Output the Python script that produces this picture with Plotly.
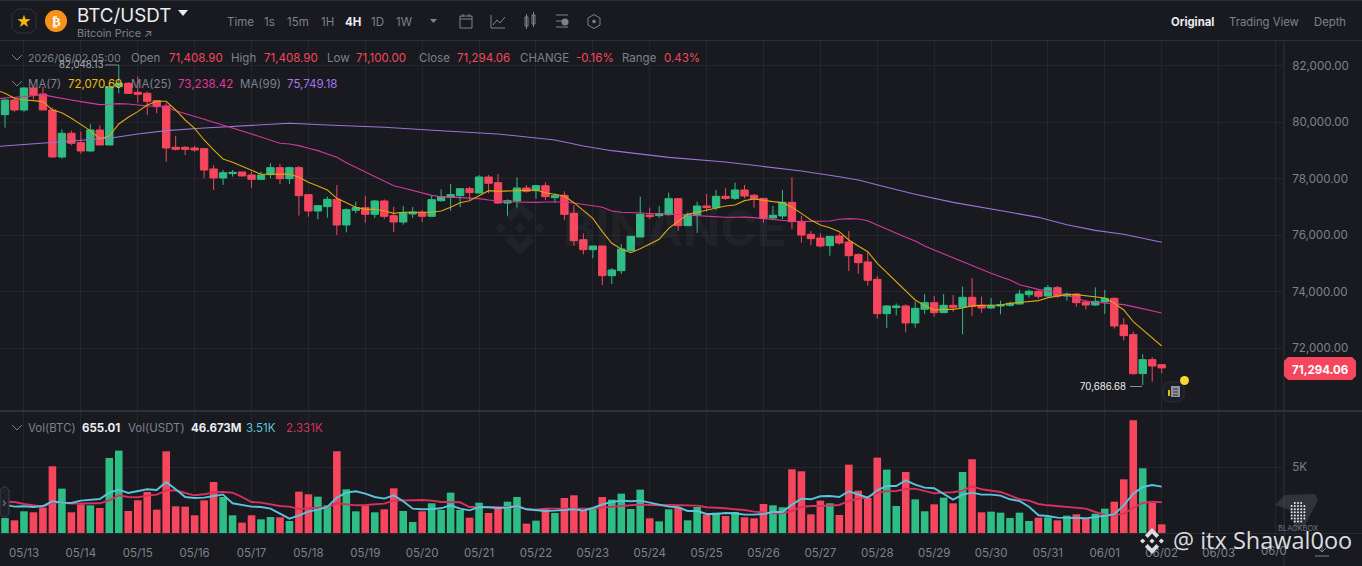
"""BTC/USDT 4H candles with MA and volume panes, Binance dark chart look."""

import pandas as pd
import plotly.graph_objects as go

W, H = 1362, 566

# ── data, one value per 4H candle ──
opens = [
    80274, 80795, 80440, 81220, 81007, 80440, 78773, 79613, 79282, 78986,
    79731, 79199, 81267, 81386, 81067, 81031, 80771, 80582, 79116, 79116,
    79092, 79069, 78348, 78029, 78183, 78242, 78135, 77981, 78147, 78395,
    78005, 78395, 77438, 76859, 77012, 77272, 76362, 76882, 76976, 76740,
    77213, 76692, 76468, 76752, 76811, 76669, 77224, 77343, 77402, 77650,
    77496, 78064, 77863, 77142, 77213, 77673, 77579, 77756, 77331, 77414,
    76775, 75841, 75487, 75617, 74565, 74742, 75451, 75936, 76716, 76693,
    76728, 77295, 76338, 76716, 77035, 76976, 77378, 77307, 77603, 77414,
    77307, 76610, 76681, 77165, 76492, 76031, 75901, 75629, 75972, 75759,
    75310, 75050, 74435, 73218, 73431, 73489, 72887, 73371, 73608, 73253,
    73513, 73442, 73797, 73513, 73419, 73489, 73513, 73560, 73891, 74010,
    73844, 74140, 73844, 73915, 73631, 73525, 73631, 73761, 72816, 72473,
    71090, 71586, 71408.90,
]
highs = [
    80818, 80889, 81244, 81244, 81267, 80523, 79755, 79707, 79672, 79944,
    79896, 81267, 82048.13, 81433, 81622, 81090, 80795, 80676, 79518, 79163,
    79163, 79081, 78490, 78312, 78312, 78253, 78253, 78253, 78549, 78525,
    78431, 78454, 77450, 77071, 77366, 77780, 76952, 77189, 77390, 77248,
    77272, 77012, 77035, 77000, 76893, 77390, 77626, 77815, 77662, 77721,
    78135, 78135, 78170, 77272, 78052, 77780, 77780, 77874, 77484, 77555,
    77071, 76066, 75617, 75617, 74837, 75688, 75971, 77366, 76976, 77035,
    77508, 77307, 76799, 77189, 77461, 77603, 77662, 77863, 77780, 77461,
    77307, 77035, 77603, 78052, 76693, 76149, 76066, 75972, 76066, 76149,
    75357, 75392, 74553, 73513, 73584, 73549, 73643, 73915, 73844, 73915,
    73880, 74175, 74482, 73820, 73773, 73679, 73643, 74057, 74080, 74057,
    74234, 74199, 73962, 73939, 73702, 74151, 74057, 73797, 73052, 72579,
    71776, 71669, 71408.90,
]
lows = [
    79814, 80381, 80381, 80818, 80440, 78750, 78714, 79187, 78891, 78962,
    79199, 79199, 81031, 81031, 80700, 80263, 80322, 78608, 78998, 78844,
    78962, 78017, 77603, 77781, 78076, 78076, 77674, 77958, 78017, 77816,
    77816, 76693, 76657, 76563, 76621, 76007, 76101, 76775, 76444, 76610,
    76574, 76113, 76373, 76610, 76468, 76657, 77189, 76870, 76988, 77248,
    77484, 77484, 77106, 76692, 76976, 77508, 77295, 77248, 77154, 76539,
    75629, 75321, 75180, 74234, 74269, 74624, 75416, 75924, 76574, 76622,
    76693, 76149, 76326, 76078, 76834, 76894, 77248, 77248, 77307, 76976,
    76444, 76563, 76574, 76220, 75735, 75641, 75570, 75274, 75664, 74731,
    74636, 74211, 73040, 72710, 73159, 72556, 72721, 73206, 73111, 73253,
    73288, 72485, 73135, 73253, 73383, 73194, 73466, 73549, 73785, 73738,
    73820, 73785, 73679, 73466, 73371, 73490, 73206, 72686, 72260, 71054,
    70686.68, 70806, 71100.00,
]
closes = [
    80795, 80440, 81220, 80972, 80440, 78773, 79613, 79258, 78986, 79731,
    79199, 81267, 81386, 81031, 80996, 80747, 80558, 79092, 79045, 79045,
    79021, 78312, 78029, 78218, 78230, 78100, 77981, 78135, 78395, 78005,
    78395, 77402, 76859, 77048, 77272, 76362, 76905, 76976, 76740, 77213,
    76669, 76468, 76799, 76822, 76669, 77260, 77366, 77437, 77650, 77508,
    78064, 77839, 77142, 77224, 77673, 77555, 77756, 77366, 77402, 76740,
    75806, 75487, 75617, 74565, 74766, 75511, 75960, 76740, 76657, 76764,
    77295, 76338, 76740, 77035, 76976, 77378, 77307, 77603, 77390, 77284,
    76610, 76704, 77165, 76480, 76007, 75877, 75617, 75960, 75723, 75274,
    75026, 74400, 73218, 73490, 73490, 72887, 73407, 73608, 73253, 73513,
    73442, 73797, 73466, 73419, 73513, 73537, 73584, 73915, 74010, 73832,
    74140, 73844, 73915, 73608, 73525, 73655, 73761, 72780, 72437, 71090,
    71586, 71362, 71294.06,
]
# the MA lists start one candle earlier, that point sits just off the left edge
ma7 = [
    81150, 81031, 80854, 80795, 80771, 80736, 80440, 80345, 80145, 79932, 79707,
    79423, 79518, 79944, 80180, 80381, 80617, 80747, 80747, 80440, 80085,
    79790, 79376, 79022, 78702, 78584, 78454, 78301, 78159, 78159, 78159,
    78171, 78052, 77875, 77745, 77603, 77307, 77153, 76988, 76917, 76917,
    76858, 76775, 76811, 76811, 76799, 76811, 76858, 76988, 77153, 77224,
    77402, 77579, 77555, 77555, 77579, 77591, 77603, 77508, 77461, 77390,
    77153, 76870, 76598, 76125, 75711, 75510, 75380, 75522, 75688, 75853,
    76244, 76480, 76740, 76811, 76894, 76964, 77035, 77071, 77225, 77284,
    77225, 77189, 77154, 76988, 76775, 76539, 76362, 76267, 76125, 75830,
    75617, 75416, 75002, 74683, 74329, 74033, 73702, 73501, 73348, 73371,
    73371, 73419, 73501, 73513, 73513, 73525, 73584, 73608, 73631, 73679,
    73785, 73844, 73891, 73891, 73844, 73797, 73773, 73584, 73348, 72934,
    72638, 72343, 72070.69,
]
ma25 = [
    80840, 80854, 80889, 80913, 80948, 80984, 80913, 80866, 80795, 80736, 80676,
    80629, 80641, 80665, 80653, 80617, 80582, 80582, 80535, 80416, 80322,
    80227, 80109, 80003, 79908, 79802, 79695, 79589, 79471, 79376, 79258,
    79234, 79175, 79081, 78998, 78880, 78761, 78572, 78406, 78253, 78099,
    77934, 77756, 77673, 77579, 77484, 77413, 77366, 77354, 77331, 77307,
    77295, 77248, 77213, 77189, 77177, 77165, 77165, 77177, 77189, 77177,
    77142, 77106, 77047, 76988, 76858, 76811, 76799, 76799, 76775, 76764,
    76764, 76740, 76716, 76693, 76669, 76634, 76634, 76634, 76645, 76622,
    76586, 76563, 76527, 76492, 76480, 76480, 76492, 76504, 76563, 76586,
    76574, 76515, 76362, 76208, 76066, 75924, 75794, 75617, 75475, 75334,
    75192, 75050, 74908, 74766, 74648, 74530, 74411, 74246, 74151, 74080,
    74021, 73962, 73880, 73761, 73667, 73620, 73596, 73584, 73537, 73466,
    73383, 73300, 73238.42,
]
# MA(99) is a smooth curve, so it was only read at these candles (-1 = off the edge)
ma99_candles = [
    -1, 0, 4, 8, 11, 14, 17, 21, 24, 27, 30, 34, 40, 46, 52, 58, 61, 64, 67, 70,
    76, 78, 84, 88, 90, 93, 96, 100, 103, 106, 109, 112, 115, 118, 122,
]
ma99 = [
    79140, 79163, 79282, 79352, 79435, 79589, 79707, 79802, 79861, 79920, 79967,
    79907, 79825, 79706, 79588, 79375, 79163, 78997, 78867, 78761, 78595,
    78513, 78276, 78075, 77957, 77697, 77449, 77165, 76976, 76811, 76633,
    76373, 76172, 76031, 75749.18,
]
volumes = [
    1137, 960, 1643, 1567, 1920, 5054, 3361, 1567, 2173, 2097,
    1895, 5686, 6242, 1668, 2476, 3108, 1769, 6191, 2022, 1996,
    1339, 2476, 3866, 2729, 1339, 783, 1339, 1036, 1213, 1188,
    910, 3133, 2931, 2754, 2097, 6191, 3310, 1643, 2047, 1567,
    1794, 3386, 1668, 834, 1643, 2249, 1744, 3058, 1744, 1162,
    2300, 1516, 1946, 2375, 2729, 708, 935, 1845, 1516, 2653,
    2856, 1769, 1845, 2729, 2527, 2982, 1819, 3285, 1112, 884,
    1794, 1920, 960, 1971, 1390, 1541, 1289, 1592, 1188, 1112,
    2198, 2097, 1946, 4827, 4675, 1415, 2451, 2249, 1365, 5180,
    3209, 2653, 5711, 4801, 2047, 4624, 2552, 1643, 2173, 2679,
    2249, 4624, 5585, 1567, 1617, 1541, 1137, 1541, 910, 1162,
    1188, 960, 1314, 1415, 1061, 1466, 1845, 2375, 4068, 8541,
    4902, 2300, 655.01,
]
vol_ma_fast = [
    2148, 1996, 2022, 1971, 2047, 2401, 2300, 2274, 2451, 2527,
    2578, 3058, 3285, 3032, 3184, 3310, 3260, 3866, 3310, 2729,
    2653, 2679, 2805, 2906, 2249, 2097, 1996, 1971, 1845, 1466,
    1087, 1339, 1617, 1769, 1971, 2679, 3058, 3159, 2982, 2729,
    2603, 2856, 2401, 1845, 1794, 1819, 1870, 2097, 1845, 1718,
    1971, 1946, 1895, 1921, 2047, 1794, 1718, 1668, 1693, 1769,
    1794, 1693, 1895, 2173, 2350, 2451, 2401, 2451, 2300, 2123,
    1996, 1946, 1668, 1668, 1440, 1440, 1516, 1491, 1390, 1390,
    1440, 1592, 1592, 2148, 2603, 2552, 2780, 2805, 2729, 3159,
    2906, 2679, 3235, 3563, 3563, 3993, 3664, 3437, 3386, 2931,
    2527, 2906, 3058, 2906, 2906, 2830, 2552, 2426, 1996, 1339,
    1289, 1162, 1162, 1162, 1112, 1213, 1339, 1415, 2097, 2982,
    3487, 3639, 3510,
]
vol_ma_slow = [
    2350, 2350, 2198, 2097, 1996, 2300, 2300, 2224, 2224, 2249,
    2249, 2476, 2856, 2729, 2704, 2830, 2906, 3209, 3235, 3032,
    2856, 2931, 3083, 3108, 3058, 2729, 2350, 2300, 2148, 2047,
    1996, 1819, 1870, 1921, 1946, 2249, 2198, 2097, 2123, 2173,
    2224, 2451, 2476, 2476, 2502, 2451, 2350, 2350, 2325, 1971,
    1946, 1946, 1946, 1971, 2022, 1794, 1769, 1845, 1845, 1845,
    1870, 1845, 1845, 1921, 1996, 2072, 2097, 2148, 2097, 2097,
    2123, 2123, 2097, 2072, 1946, 1921, 1870, 1794, 1744, 1617,
    1541, 1491, 1516, 1668, 1971, 2047, 2047, 2097, 2123, 2426,
    2552, 2729, 3058, 3159, 3184, 3336, 3361, 3159, 3007, 3058,
    3083, 3209, 3538, 3310, 3184, 3108, 2856, 2552, 2451, 2198,
    2097, 2047, 1996, 1921, 1845, 1592, 1390, 1339, 1466, 1895,
    2274, 2375, 2331,
]
times = pd.date_range("2026-05-12 21:00", periods=len(closes), freq="4h")
ma_times = pd.date_range("2026-05-12 17:00", periods=len(closes) + 1, freq="4h")
tick_times = pd.date_range("2026-05-13 05:00", "2026-06-04 05:00", freq="1D")
# the last date label is cut off by the price axis, it is added by hand below
tick_labels = [t.strftime("%m/%d") for t in tick_times[:-1]] + [""]
price_ticks = [72000, 74000, 76000, 78000, 80000, 82000]

# ── colours ──
BG = "#181A20"
GRID = "#23262D"
EDGE = "#2E343D"
RED = "#F6465D"
GREEN = "#2EBD85"
MUTED = "#7C828D"
FONT = "Inter, Roboto, sans-serif"


def px(x):
    return x / W


def py(y):
    return 1 - y / H


annotations = []
shapes = []


def label(x, y, text, color=MUTED, size=11.5, anchor="left", bold=False, family=FONT):
    annotations.append(dict(
        xref="paper", yref="paper", x=px(x), y=py(y), text=f"<b>{text}</b>" if bold else text,
        showarrow=False, xanchor=anchor, yanchor="middle", borderpad=0,
        font=dict(color=color, size=size, family=family),
    ))


def hline(x0, x1, y, color=EDGE, width=1):
    shapes.append(dict(type="line", xref="paper", yref="paper",
                       x0=px(x0), x1=px(x1), y0=py(y), y1=py(y),
                       line=dict(color=color, width=width)))


def vline(x, y0, y1, color=EDGE, width=1):
    shapes.append(dict(type="line", xref="paper", yref="paper",
                       x0=px(x), x1=px(x), y0=py(y0), y1=py(y1),
                       line=dict(color=color, width=width)))


def poly(points, fill=None, color=None, width=1, close=True, layer="above"):
    path = "M " + " L ".join(f"{px(a):.5f},{py(b):.5f}" for a, b in points)
    shapes.append(dict(type="path", xref="paper", yref="paper", layer=layer,
                       path=path + (" Z" if close else ""),
                       fillcolor=fill or "rgba(0,0,0,0)",
                       line=dict(color=color or "rgba(0,0,0,0)", width=width)))


def box(x0, y0, x1, y1, fill=None, color=None, width=1, r=0):
    pts = [(x0 + r, y0), (x1 - r, y0), (x1, y0 + r), (x1, y1 - r),
           (x1 - r, y1), (x0 + r, y1), (x0, y1 - r), (x0, y0 + r)]
    poly(pts, fill=fill, color=color, width=width)


def dot(cx, cy, r, fill):
    shapes.append(dict(type="circle", xref="paper", yref="paper",
                       x0=px(cx - r), x1=px(cx + r), y0=py(cy + r), y1=py(cy - r),
                       fillcolor=fill, line=dict(width=0)))


def binance_logo(cx, cy, s, fill, layer="above"):
    # s is half the logo height
    for dx, dy in [(0, 0), (-0.72, 0), (0.72, 0)]:
        r = 0.2 * s
        x, y = cx + dx * s, cy + dy * s
        poly([(x, y - r), (x + r, y), (x, y + r), (x - r, y)], fill=fill, layer=layer)
    for sign in (-1, 1):
        poly([(cx, cy + sign * s), (cx + 0.55 * s, cy + sign * 0.45 * s),
              (cx + 0.33 * s, cy + sign * 0.24 * s), (cx, cy + sign * 0.57 * s),
              (cx - 0.33 * s, cy + sign * 0.24 * s), (cx - 0.55 * s, cy + sign * 0.45 * s)],
             fill=fill, layer=layer)


# ── frame lines ──
hline(0, W, 0.5, color="#2B3139", width=1)
hline(0, W, 40.5, color="#2B3139", width=1)
hline(0, W, 411, color="#333A44", width=1.5)
hline(0, W, 533.5, color="#262A32", width=1)
vline(1284, 41, H, color="#2B3139", width=1)

# ── header ──
box(12, 9, 36, 33, color="#2E343D", r=5)
label(24, 21, "★", color="#F0B90B", size=15, anchor="center")
dot(56, 21, 11, "#F7931A")
label(56, 21, "₿", color="#FFFFFF", size=13, anchor="center", bold=True, family="DejaVu Sans")
label(76, 16, "BTC/USDT", color="#EAECEF", size=18.8)
poly([(178, 10), (188, 10), (183, 16)], fill="#EAECEF")
label(76, 34, "Bitcoin Price ↗", color=MUTED, size=10.8)

for x, txt in [(226, "Time"), (263, "1s"), (286, "15m"), (320, "1H"), (370, "1D"), (395, "1W")]:
    label(x, 22, txt, size=11.5)
label(344, 22, "4H", color="#EAECEF", size=11.5, bold=True)
poly([(430, 19), (437, 19), (433.5, 23)], fill=MUTED)

# toolbar icons
box(460, 16, 472, 28, color=MUTED)
hline(460, 472, 19, color=MUTED)
vline(463, 14, 17, color=MUTED)
vline(469, 14, 17, color=MUTED)
poly([(491, 15), (491, 28), (505, 28)], color=MUTED, close=False)
poly([(493, 25), (497, 20), (500, 23), (505, 17)], color=MUTED, close=False)
box(525, 17, 528, 26, color=MUTED)
box(532, 15, 535, 24, color=MUTED)
vline(526.5, 14, 29, color=MUTED)
vline(533.5, 12, 27, color=MUTED)
hline(556, 568, 15, color=MUTED)
hline(556, 562, 21, color=MUTED)
hline(556, 568, 27, color=MUTED)
dot(565, 22, 3.5, MUTED)
poly([(594, 14.5), (600, 18), (600, 25), (594, 28.5), (588, 25), (588, 18)], color=MUTED)
dot(594, 21.5, 1.8, MUTED)

label(1170, 22, "Original", color="#EAECEF", size=11.3, bold=True)
label(1228, 22, "Trading View", size=11.3)
label(1313, 22, "Depth", size=11.3)

# ── info rows ──
poly([(12, 55), (17, 60), (22, 55)], color=MUTED, close=False)
poly([(12, 81), (17, 86), (22, 81)], color=MUTED, close=False)
poly([(12, 425), (17, 430), (22, 425)], color=MUTED, close=False)
label(27, 58, "2026/06/02 05:00", size=10.6)
for x, txt, col in [
    (130, "Open", MUTED), (168, "71,408.90", RED),
    (230, "High", MUTED), (263, "71,408.90", RED), (326, "Low", MUTED),
    (355, "71,100.00", RED), (418, "Close", MUTED), (456, "71,294.06", RED),
    (519, "CHANGE", MUTED), (575, "-0.16%", RED), (621, "Range", MUTED), (663, "0.43%", RED),
]:
    label(x, 58, txt, color=col)
for x, txt, col in [
    (27, "MA(7)", MUTED), (67, "72,070.69", "#F0B90B"), (130, "MA(25)", MUTED),
    (177, "73,238.42", "#E0359F"), (239, "MA(99)", MUTED), (286, "75,749.18", "#A875E8"),
]:
    label(x, 84, txt, color=col)
for x, txt, col, b in [
    (27, "Vol(BTC)", MUTED, False), (81, "655.01", "#EAECEF", True),
    (127, "Vol(USDT)", MUTED, False), (190, "46.673M", "#EAECEF", True),
    (245, "3.51K", "#5AC4DC", False), (285, "2.331K", "#D6315F", False),
]:
    label(x, 428, txt, color=col, bold=b)

# ── high / low markers ──
label(104, 64, "82,048.13", color="#A7ADB6", size=9.7, anchor="right")
hline(105, 118, 65, color="#848E9C")
label(1127, 386, "70,686.68", color="#EAECEF", size=9.7, anchor="right")
hline(1130, 1142, 386.5, color="#848E9C")

# ── last price badge and little widgets ──
box(1284, 357, 1356, 380, fill=RED, r=4)
label(1320, 369.5, "71,294.06", color="#FFFFFF", size=11.5, anchor="center", bold=True)
box(1163, 382, 1184, 402, fill="#1B1E25", color="#2B3139", r=5)
box(1171, 386, 1180, 397, fill="#8D949E")
hline(1173, 1178, 389, color="#2B3139")
hline(1173, 1178, 392, color="#2B3139")
hline(1173, 1178, 395, color="#2B3139")
box(1168, 390, 1170, 396, fill="#F0B90B")
dot(1184.5, 380.5, 4.5, "#FCD535")
box(0, 487, 9, 517, fill="#1E2128", color="#3A404A", r=3)
label(4, 502, "›", size=12, anchor="center")

# ── BINANCE watermark ──
binance_logo(520, 228, 27, "rgba(255,255,255,0.035)", layer="below")
label(562, 228, "BINANCE", color="rgba(255,255,255,0.035)", size=49, bold=True)

# ── bottom right overlays ──
poly([(1275, 505), (1285, 495), (1315, 494), (1318, 500), (1305, 525), (1295, 530), (1290, 510)],
     fill="rgba(80,82,86,0.45)")
for row, n in enumerate([3, 5, 5, 5, 5, 5, 3]):
    for c in range(n):
        dot(1298 + (c - (n - 1) / 2) * 3.2, 503 + row * 3.1, 1.0, "#E6E8EA")
label(1298, 528, "BLACKBOX", color="#6E747E", size=7.5, anchor="center")
label(1260, 551, "06/0", size=11.5)
vline(1322, 542, 552, color=MUTED)
hline(1315, 1329, 556, color=MUTED)
poly([(1318, 548), (1322, 552), (1326, 548)], color=MUTED, close=False)
binance_logo(1152, 541, 13, "#DADCDF")
label(1172, 540, "@ itx Shawal0oo", color="#DADCDF", size=23.5, family="Open Sans")

# ── traces ──
fig = go.Figure()
fig.add_trace(go.Candlestick(
    x=times, open=opens, high=highs, low=lows, close=closes, whiskerwidth=0,
    increasing=dict(line=dict(color=GREEN, width=1), fillcolor=GREEN),
    decreasing=dict(line=dict(color=RED, width=1), fillcolor=RED),
    hoverinfo="skip", xaxis="x", yaxis="y",
))
ma99_times = [ma_times[i + 1] for i in ma99_candles]
for xs, ys, col in [(ma99_times, ma99, "#9D72D8"), (ma_times, ma25, "#D6379B"), (ma_times, ma7, "#DCA70F")]:
    fig.add_trace(go.Scatter(x=xs, y=ys, mode="lines", line=dict(color=col, width=1.1),
                             hoverinfo="skip", xaxis="x", yaxis="y"))

bar_colors = [GREEN if c >= o else RED for o, c in zip(opens, closes)]
fig.add_trace(go.Bar(x=times, y=volumes, marker=dict(color=bar_colors, line=dict(width=0)),
                     width=4 * 3600 * 1000 * 0.8, hoverinfo="skip", xaxis="x2", yaxis="y2"))
fig.add_trace(go.Scatter(x=times, y=vol_ma_slow, mode="lines", line=dict(color="#D6315F", width=1.9),
                         hoverinfo="skip", xaxis="x2", yaxis="y2"))
fig.add_trace(go.Scatter(x=times, y=vol_ma_fast, mode="lines", line=dict(color="#5AC4DC", width=1.9),
                         hoverinfo="skip", xaxis="x2", yaxis="y2"))

x_range = [pd.Timestamp("2026-05-12 18:53"), pd.Timestamp("2026-06-04 08:36")]
x_common = dict(
    range=x_range, type="date", tickmode="array", tickvals=list(tick_times), showgrid=True,
    gridcolor=GRID, gridwidth=1, zeroline=False, showline=False, domain=[0, 1284 / W],
    rangeslider=dict(visible=False),
)
fig.update_layout(
    width=W, height=H, autosize=False, showlegend=False,
    margin=dict(l=0, r=0, t=0, b=0),
    paper_bgcolor=BG, plot_bgcolor=BG,
    font=dict(family=FONT, color=MUTED, size=11.5),
    boxgap=0.22, boxgroupgap=0, bargap=0.2,
    xaxis=dict(anchor="y", showticklabels=False, ticks="", **x_common),
    xaxis2=dict(anchor="y2", matches="x", showticklabels=True, ticks="outside", ticklen=9,
                tickcolor="rgba(0,0,0,0)", ticktext=tick_labels,
                tickfont=dict(size=11.5, color=MUTED), **x_common),
    yaxis=dict(
        domain=[py(411), py(41)], range=[69766, 82886], side="right", anchor="x",
        tickmode="array", tickvals=price_ticks, tickformat=",.2f", ticks="outside", ticklen=5,
        tickcolor="rgba(0,0,0,0)", showgrid=True, gridcolor=GRID, zeroline=False,
        tickfont=dict(size=11.6, color=MUTED),
    ),
    yaxis2=dict(
        domain=[py(533), py(411)], range=[0, 9242], side="right", anchor="x2",
        tickmode="array", tickvals=[5000], ticktext=["5K"], ticks="outside", ticklen=5,
        tickcolor="rgba(0,0,0,0)", showgrid=True, gridcolor=GRID, zeroline=False,
        tickfont=dict(size=11.6, color=MUTED),
    ),
    shapes=shapes, annotations=annotations,
)

fig.write_html(
    "out.html",
    config={"displayModeBar": False, "responsive": False},
    post_script="document.body.style.margin='0';document.body.style.background='#181A20';"
                "document.documentElement.style.overflow='hidden';",
)
